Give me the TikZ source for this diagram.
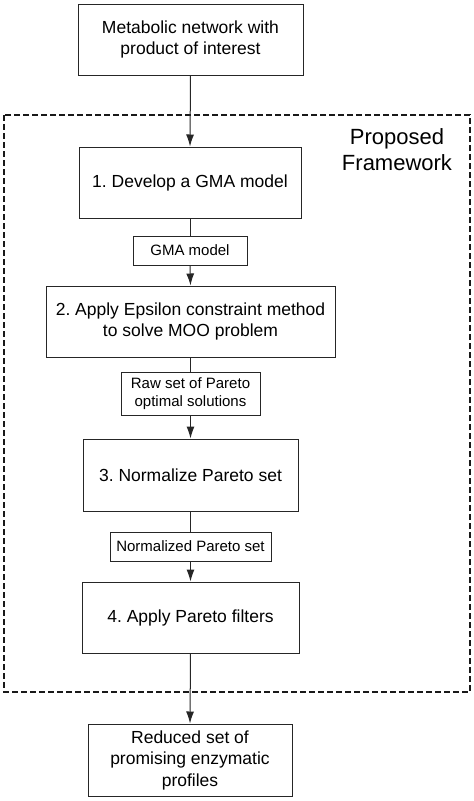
\documentclass[tikz,border=0pt]{standalone}
\usepackage{fontspec}
\setmainfont{Liberation Sans}
\usetikzlibrary{arrows.meta}
\frenchspacing
\begin{document}
\begin{tikzpicture}[x=1pt,y=-1pt,
  box/.style={draw=black!85,line width=1pt,fill=white,rectangle,align=center,inner sep=0pt,
    font=\fontsize{17.5}{21.5}\selectfont},
  smallbox/.style={draw=black!85,line width=1pt,fill=white,rectangle,align=center,inner sep=0pt,
    font=\fontsize{15}{18.5}\selectfont},
  conn/.style={draw=black!85,line width=1pt},
  arr/.style={conn,-{Latex[length=12pt,width=8pt]}},
  frame/.style={draw=black!90,line width=1.5pt,dash pattern=on 6pt off 3pt}
]
\useasboundingbox (0,0) rectangle (474,801);
\draw[frame] (4,115) rectangle (470,692);
\node[font=\fontsize{22}{26}\selectfont,align=center] (title) at (397,150) {Proposed\\Framework};

\node[box,minimum width=225pt,minimum height=71pt] (top) at (190.5,39.5) {Metabolic network with\\product of interest};
\node[box,minimum width=222pt,minimum height=71pt] (s1) at (190,182.5) {1. Develop a GMA model};
\node[smallbox,minimum width=114pt,minimum height=29pt] (gma) at (190,250.5) {GMA model};
\node[box,minimum width=289pt,minimum height=71pt] (s2) at (190.5,321.5) {2. Apply Epsilon constraint method\\to solve MOO problem};
\node[smallbox,minimum width=139pt,minimum height=43pt] (raw) at (190.5,393.5) {Raw set of Pareto\\optimal solutions};
\node[box,minimum width=215pt,minimum height=72pt] (s3) at (190.5,475) {3. Normalize Pareto set};
\node[smallbox,minimum width=161pt,minimum height=29pt] (norm) at (190.5,546.5) {Normalized Pareto set};
\node[box,minimum width=217pt,minimum height=71pt] (s4) at (190.5,617.5) {4. Apply Pareto filters};
\node[box,minimum width=204pt,minimum height=72pt] (fin) at (190,760) {Reduced set of\\promising enzymatic\\profiles};

\draw[arr] (top.south) -- (s1.north);
\draw[conn] (s1.south) -- (gma.north);
\draw[arr] (gma.south) -- (s2.north);
\draw[conn] (s2.south) -- (raw.north);
\draw[arr] (raw.south) -- (s3.north);
\draw[conn] (s3.south) -- (norm.north);
\draw[arr] (norm.south) -- (s4.north);
\draw[arr] (s4.south) -- (fin.north);
\end{tikzpicture}
\end{document}
